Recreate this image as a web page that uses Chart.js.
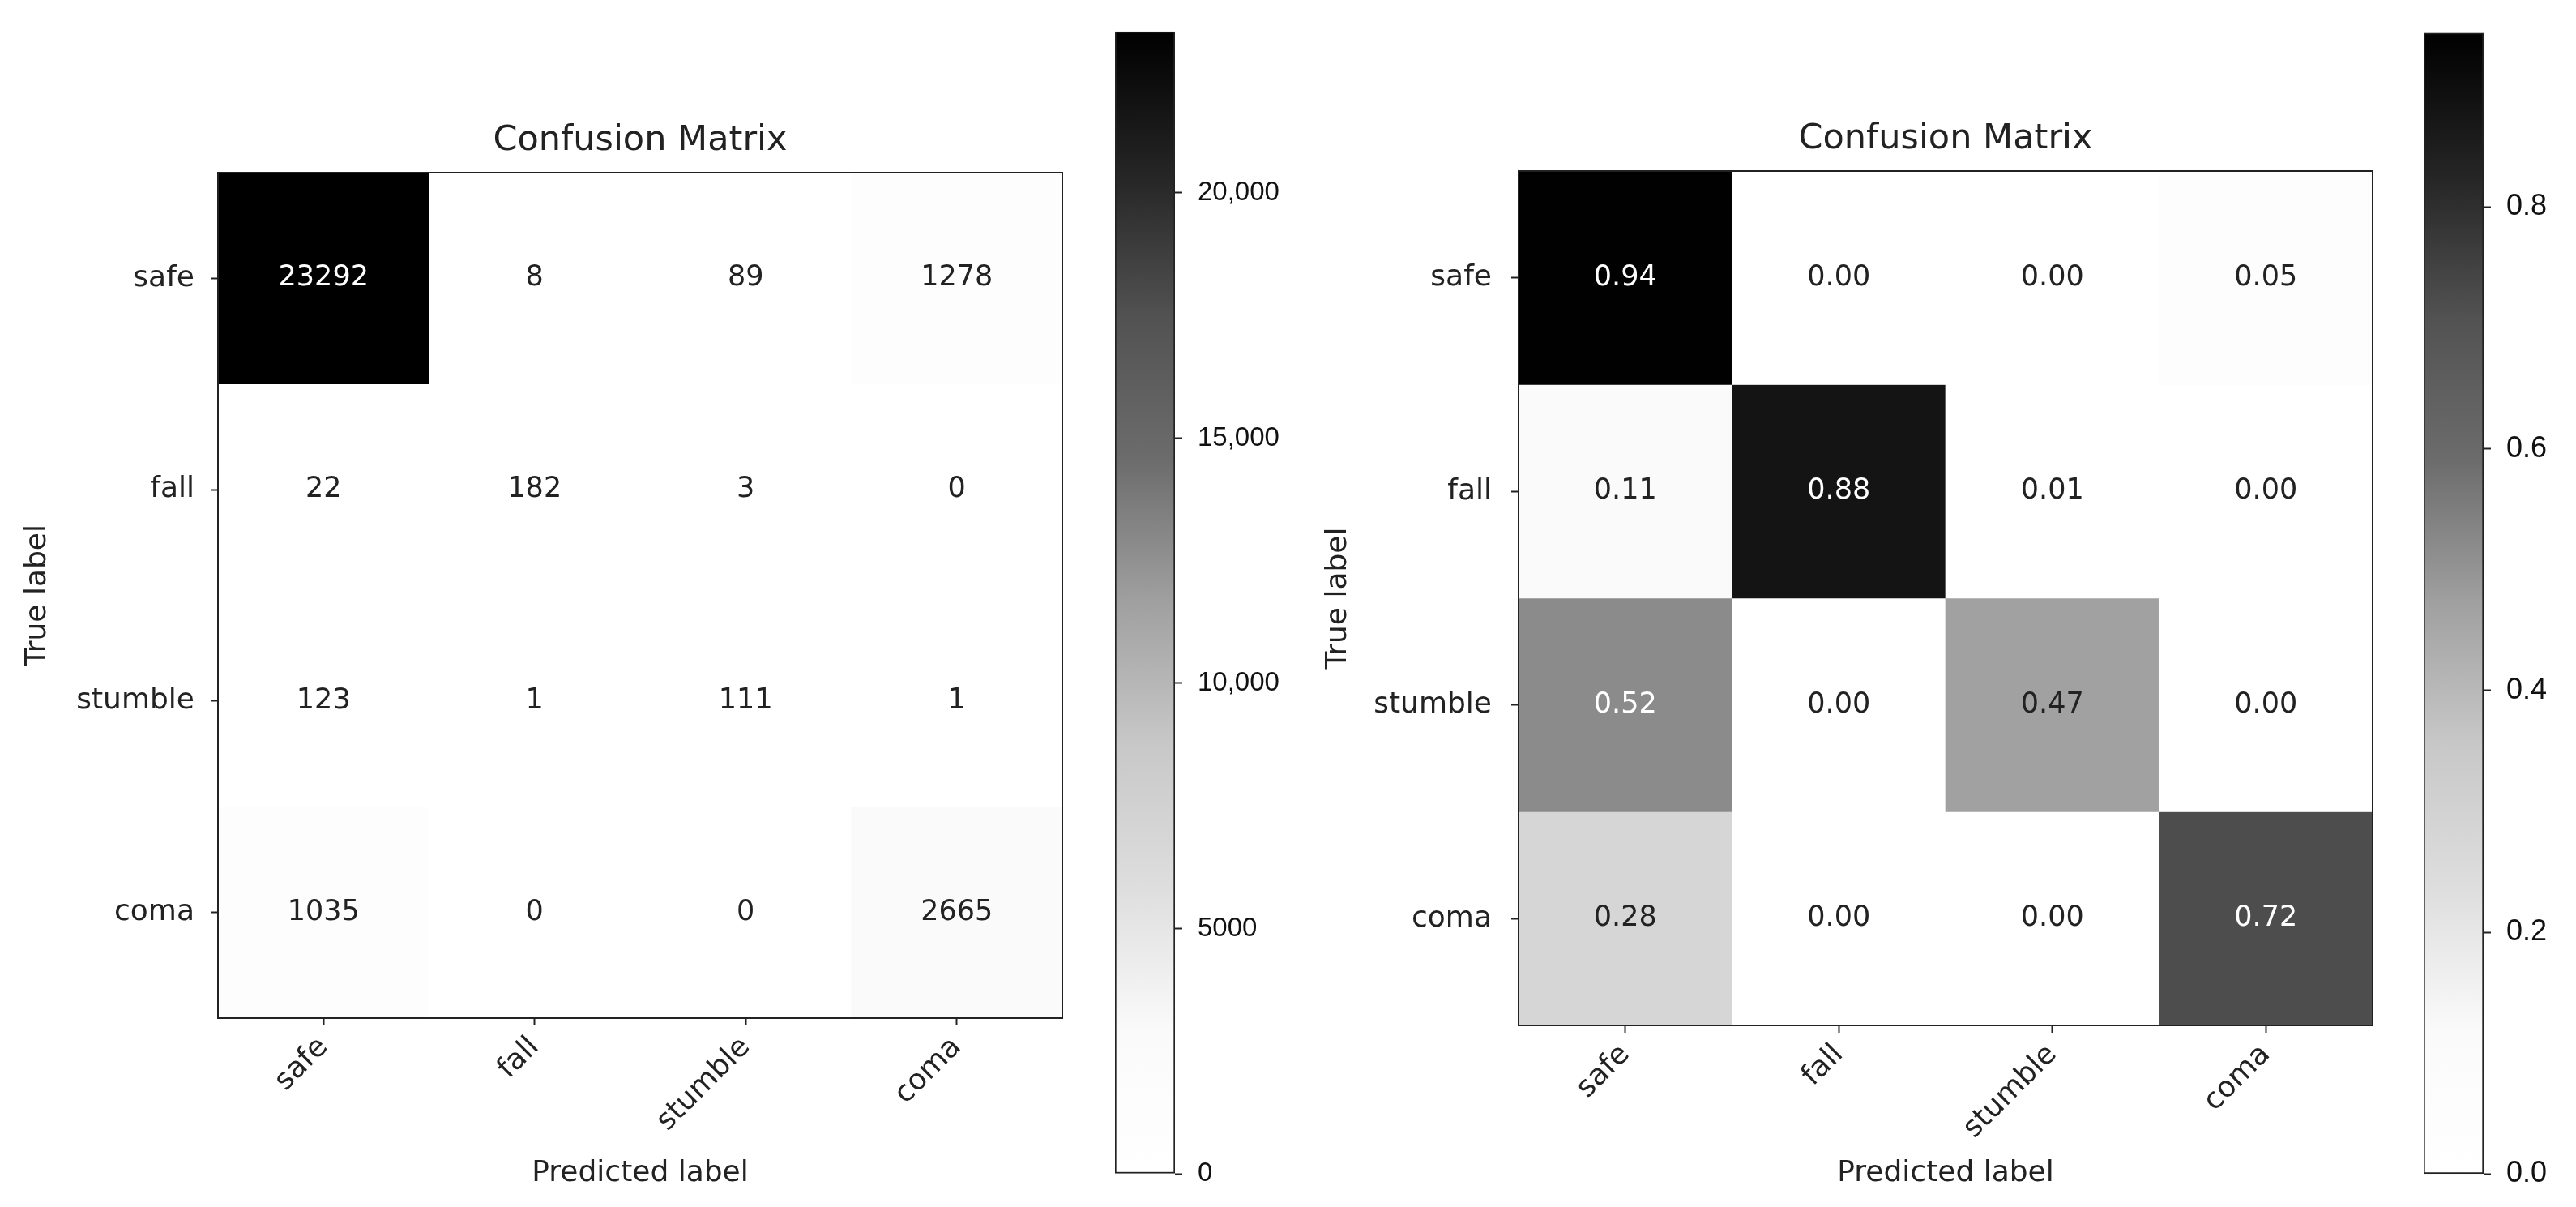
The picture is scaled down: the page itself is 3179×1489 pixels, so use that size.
<!DOCTYPE html>
<html>

<head>
    <title>Confusion Matrix</title>
    <script src="https://cdn.jsdelivr.net/npm/chart.js"></script>
    <style>
        html, body { margin: 0; padding: 0; background: #fff; overflow: hidden; }
        .layer { position: absolute; left: 0; top: 0; width: 3179px; height: 1489px; }
    </style>
</head>

<body>
    <div class="layer"><canvas id="countMatrix"></canvas></div>
    <div class="layer"><canvas id="countBar"></canvas></div>
    <div class="layer"><canvas id="normMatrix"></canvas></div>
    <div class="layer"><canvas id="normBar"></canvas></div>

    <script>
        // class names (true label rows / predicted label columns)
        const classLabels = ['safe', 'fall', 'stumble', 'coma'];

        // raw counts, one array per true label
        const countsSafe = [23292, 8, 89, 1278];
        const countsFall = [22, 182, 3, 0];
        const countsStumble = [123, 1, 111, 1];
        const countsComa = [1035, 0, 0, 2665];

        // row-normalised values as printed on the right matrix
        const normSafe = [0.94, 0.00, 0.00, 0.05];
        const normFall = [0.11, 0.88, 0.01, 0.00];
        const normStumble = [0.52, 0.00, 0.47, 0.00];
        const normComa = [0.28, 0.00, 0.00, 0.72];

        // colorbar ranges and ticks
        const countMax = 23292;
        const countTicks = [0, 5000, 10000, 15000, 20000];
        const countTickLabels = ['0', '5000', '10,000', '15,000', '20,000'];
        const normMax = 0.944;
        const normTicks = [0, 0.2, 0.4, 0.6, 0.8];
        const normTickLabels = ['0.0', '0.2', '0.4', '0.6', '0.8'];

        const W = 3179, H = 1489;
        const ink = '#222';

        // grey colormap (white -> black), stops every 1/8
        const greyStops = [255, 250, 222, 200, 160, 108, 82, 37, 0];

        function greyAt(t) {
            t = Math.max(0, Math.min(1, t));
            let p = t * 8;
            let i = Math.min(7, Math.floor(p));
            let g = Math.round(greyStops[i] + (greyStops[i + 1] - greyStops[i]) * (p - i));
            return `rgb(${g},${g},${g})`;
        }

        function drawMatrix(id, rows, vmax, fmt, box) {
            const yAxisW = 244;
            const datasets = rows.map((row, r) => ({
                data: row.map(() => [r - 0.5, r + 0.5]),
                backgroundColor: row.map(v => greyAt(v / vmax)),
                borderWidth: 0,
                categoryPercentage: 1,
                barPercentage: 1,
                grouped: false
            }));

            // numbers in the cells + frame round the plot
            const cellText = {
                id: 'cellText',
                afterDatasetsDraw(chart) {
                    const { ctx, chartArea: a } = chart;
                    ctx.save();
                    ctx.font = '35px "DejaVu Sans"';
                    ctx.textAlign = 'center';
                    ctx.textBaseline = 'middle';
                    rows.forEach((row, r) => {
                        chart.getDatasetMeta(r).data.forEach((bar, c) => {
                            ctx.fillStyle = row[c] > vmax / 2 ? '#fff' : ink;
                            ctx.fillText(fmt(row[c]), bar.x, (bar.y + bar.base) / 2);
                        });
                    });
                    ctx.lineWidth = 2;
                    ctx.strokeStyle = ink;
                    ctx.strokeRect(a.left, a.top, a.right - a.left, a.bottom - a.top);
                    ctx.restore();
                }
            };

            new Chart(document.getElementById(id), {
                type: 'bar',
                data: { labels: classLabels, datasets: datasets },
                plugins: [cellText],
                options: {
                    responsive: true,
                    maintainAspectRatio: false,
                    animation: false,
                    layout: {
                        padding: { left: box.left - yAxisW, top: box.top - 73, right: W - box.right, bottom: 20 }
                    },
                    plugins: {
                        legend: { display: false },
                        tooltip: { enabled: false },
                        title: {
                            display: true,
                            text: 'Confusion Matrix',
                            fullSize: false,
                            color: ink,
                            font: { family: 'DejaVu Sans', size: 43, weight: 'normal' },
                            padding: { top: 8, bottom: 13.4 }
                        }
                    },
                    scales: {
                        x: {
                            type: 'category',
                            offset: true,
                            afterFit: (s) => { s.height = H - 20 - box.bottom; },
                            grid: { offset: false, drawOnChartArea: false, tickLength: 9, tickWidth: 2, tickColor: ink },
                            border: { display: false },
                            ticks: {
                                autoSkip: false, minRotation: 45, maxRotation: 45, padding: 6, color: ink,
                                font: { family: 'DejaVu Sans', size: 36 }
                            },
                            title: {
                                display: true, text: 'Predicted label', color: ink, padding: 0,
                                font: { family: 'DejaVu Sans', size: 36 }
                            }
                        },
                        y: {
                            type: 'linear',
                            min: -0.5,
                            max: 3.5,
                            reverse: true,
                            afterBuildTicks: (s) => { s.ticks = classLabels.map((n, i) => ({ value: i })); },
                            afterFit: (s) => { s.width = yAxisW; },
                            grid: { drawOnChartArea: false, tickLength: 9, tickWidth: 2, tickColor: ink },
                            border: { display: false },
                            ticks: {
                                padding: box.tickPad, color: ink,
                                font: { family: 'DejaVu Sans', size: 36 },
                                callback: (v, i) => classLabels[i]
                            },
                            title: {
                                display: true, text: 'True label', color: ink, padding: 0,
                                font: { family: 'DejaVu Sans', size: 36 }
                            }
                        }
                    }
                }
            });
        }

        function drawColorbar(id, vmax, ticks, labels, box, fontSize) {
            const axisW = 160;
            new Chart(document.getElementById(id), {
                type: 'bar',
                data: {
                    labels: [''],
                    datasets: [{
                        data: [[0, vmax]],
                        backgroundColor: (c) => {
                            const a = c.chart.chartArea;
                            if (!a) return '#888';
                            const g = c.chart.ctx.createLinearGradient(0, a.bottom, 0, a.top);
                            greyStops.forEach((s, i) => g.addColorStop(i / 8, `rgb(${s},${s},${s})`));
                            return g;
                        },
                        borderColor: ink,
                        borderWidth: 2,
                        borderSkipped: false,
                        categoryPercentage: 1,
                        barPercentage: 1
                    }]
                },
                options: {
                    responsive: true,
                    maintainAspectRatio: false,
                    animation: false,
                    layout: {
                        padding: { left: box.left, top: box.top, right: W - box.right - axisW, bottom: H - box.bottom }
                    },
                    plugins: { legend: { display: false }, tooltip: { enabled: false } },
                    scales: {
                        x: { display: false },
                        y: {
                            position: 'right',
                            min: 0,
                            max: vmax,
                            afterBuildTicks: (s) => { s.ticks = ticks.map(v => ({ value: v })); },
                            afterFit: (s) => { s.width = axisW; },
                            grid: { drawOnChartArea: false, tickLength: 9, tickWidth: 2, tickColor: ink },
                            border: { display: false },
                            ticks: {
                                padding: 19, color: '#111',
                                font: { family: 'Liberation Sans', size: fontSize },
                                callback: (v, i) => labels[i]
                            }
                        }
                    }
                }
            });
        }

        drawMatrix('countMatrix', [countsSafe, countsFall, countsStumble, countsComa], countMax,
            v => String(v), { left: 269, top: 213, right: 1311, bottom: 1256, tickPad: 20 });
        drawColorbar('countBar', countMax, countTicks, countTickLabels,
            { left: 1376, top: 20, right: 1450, bottom: 1448 }, 33);

        drawMatrix('normMatrix', [normSafe, normFall, normStumble, normComa], normMax,
            v => v.toFixed(2), { left: 1874, top: 211, right: 2928, bottom: 1265, tickPad: 24 });
        drawColorbar('normBar', normMax, normTicks, normTickLabels,
            { left: 2991, top: 25, right: 3065, bottom: 1449 }, 36);
    </script>
</body>

</html>
